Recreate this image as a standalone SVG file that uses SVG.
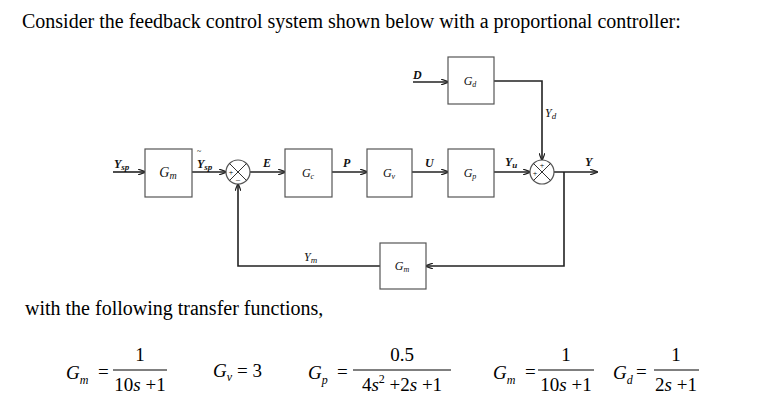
<svg xmlns="http://www.w3.org/2000/svg" width="758" height="413" viewBox="0 0 758 413">
<style>
.b{fill:#fff;stroke:#555;stroke-width:1.2}
.l{fill:none;stroke:#222;stroke-width:1.6}
.t{font-family:"Liberation Serif",serif;fill:#000}
.i{font-family:"Liberation Serif",serif;font-style:italic;fill:#111}
.s{font-family:"Liberation Serif",serif;font-size:19px;fill:#000}
</style>
<defs><marker id="a" markerWidth="8" markerHeight="6" refX="7" refY="3" orient="auto" markerUnits="userSpaceOnUse"><path d="M0,0 L8,3 L0,6" fill="none" stroke="#222" stroke-width="1.2"/></marker></defs>
<rect width="758" height="413" fill="#fff"/>
<text class="t" x="22" y="28" font-size="20">Consider the feedback control system shown below with a proportional controller:</text>
<g id="connectors">
<path class="l" d="M113,172 H145" marker-end="url(#a)"/>
<path class="l" d="M192,172 H226" marker-end="url(#a)"/>
<path class="l" d="M250,172 H285" marker-end="url(#a)"/>
<path class="l" d="M332,172 H367" marker-end="url(#a)"/>
<path class="l" d="M412,172 H448" marker-end="url(#a)"/>
<path class="l" d="M494,172 H530" marker-end="url(#a)"/>
<path class="l" d="M554,172 H597" marker-end="url(#a)"/>
<path class="l" d="M413,82 H448" marker-end="url(#a)"/>
<path class="l" d="M494,81 H542 V160" marker-end="url(#a)"/>
<path class="l" d="M564,172 V266 H426" marker-end="url(#a)"/>
<path class="l" d="M380,266 H238 V184" marker-end="url(#a)"/>
</g>
<g id="Gm1"><rect class="b" x="145" y="149" width="47" height="48"/><text class="i" x="168" y="177" font-size="14" text-anchor="middle">G<tspan font-size="10" dy="2">m</tspan></text></g>
<g id="sum1"><circle class="b" cx="238" cy="172" r="12"/><path d="M229.5,163.5 L246.5,180.5 M246.5,163.5 L229.5,180.5" stroke="#333"/><text class="t" x="231" y="175" font-size="8" text-anchor="middle">+</text><text class="t" x="238" y="182" font-size="8" text-anchor="middle">–</text></g>
<g id="Gc"><rect class="b" x="285" y="149" width="47" height="48"/><text class="i" x="308" y="177" font-size="12" text-anchor="middle">G<tspan font-size="8" dy="2">c</tspan></text></g>
<g id="Gv"><rect class="b" x="367" y="149" width="45" height="48"/><text class="i" x="389" y="177" font-size="12" text-anchor="middle">G<tspan font-size="8" dy="2">v</tspan></text></g>
<g id="Gp"><rect class="b" x="448" y="149" width="46" height="48"/><text class="i" x="470" y="177" font-size="12" text-anchor="middle">G<tspan font-size="8" dy="2">p</tspan></text></g>
<g id="sum2"><circle class="b" cx="542" cy="172" r="12"/><path d="M533.5,163.5 L550.5,180.5 M550.5,163.5 L533.5,180.5" stroke="#333"/><text class="t" x="542" y="168" font-size="8" text-anchor="middle">+</text><text class="t" x="535" y="176" font-size="8" text-anchor="middle">+</text></g>
<g id="Gd"><rect class="b" x="448" y="57" width="46" height="47"/><text class="i" x="470" y="85" font-size="12" text-anchor="middle">G<tspan font-size="8" dy="2">d</tspan></text></g>
<g id="Gm2"><rect class="b" x="380" y="243" width="46" height="46"/><text class="i" x="402" y="270" font-size="12" text-anchor="middle">G<tspan font-size="8" dy="2">m</tspan></text></g>
<g id="labels" font-size="12">
<text class="i" x="114" y="168" font-weight="bold">Y<tspan font-size="9" dy="2">sp</tspan></text>
<text class="i" x="197" y="168" font-weight="bold">Y<tspan font-size="9" dy="2">sp</tspan></text>
<text class="t" x="197" y="154" font-size="8">~</text>
<text class="i" x="263" y="167" font-weight="bold">E</text>
<text class="i" x="343" y="167" font-weight="bold">P</text>
<text class="i" x="425" y="167" font-weight="bold">U</text>
<text class="i" x="505" y="166" font-weight="bold">Y<tspan font-size="9" dy="2">u</tspan></text>
<text class="i" x="585" y="166" font-weight="bold">Y</text>
<text class="i" x="413" y="79" font-weight="bold">D</text>
<text class="i" x="545" y="117">Y<tspan font-size="9" dy="2">d</tspan></text>
<text class="i" x="304" y="261">Y<tspan font-size="9" dy="2">m</tspan></text>
</g>
<text class="t" x="25" y="315" font-size="20">with the following transfer functions,</text>
<g id="eqs" class="s">
<text x="66" y="379" font-style="italic">G<tspan font-size="12" dy="5">m</tspan></text><text x="98" y="378">=</text>
<text x="140" y="361" text-anchor="middle">1</text><line x1="113" y1="370" x2="167" y2="370" stroke="#000"/><text x="140" y="391" text-anchor="middle">10<tspan font-style="italic">s</tspan> +1</text>
<text x="213" y="377" font-style="italic">G<tspan font-size="12" dy="4">v</tspan></text><text x="237" y="377">= 3</text>
<text x="308" y="379" font-style="italic">G<tspan font-size="12" dy="5">p</tspan></text><text x="337" y="378">=</text>
<text x="402" y="361" text-anchor="middle">0.5</text><line x1="353" y1="370" x2="451" y2="370" stroke="#000"/><text x="402" y="391" text-anchor="middle">4<tspan font-style="italic">s</tspan><tspan font-size="12" dy="-8">2</tspan><tspan dy="8"> +2</tspan><tspan font-style="italic">s</tspan> +1</text>
<text x="493" y="379" font-style="italic">G<tspan font-size="12" dy="5">m</tspan></text><text x="525" y="378">=</text>
<text x="566" y="361" text-anchor="middle">1</text><line x1="538" y1="370" x2="594" y2="370" stroke="#000"/><text x="566" y="391" text-anchor="middle">10<tspan font-style="italic">s</tspan> +1</text>
<text x="613" y="379" font-style="italic">G<tspan font-size="12" dy="5">d</tspan></text><text x="636" y="378">=</text>
<text x="676" y="361" text-anchor="middle">1</text><line x1="654" y1="370" x2="699" y2="370" stroke="#000"/><text x="676" y="391" text-anchor="middle">2<tspan font-style="italic">s</tspan> +1</text>
</g>
</svg>
